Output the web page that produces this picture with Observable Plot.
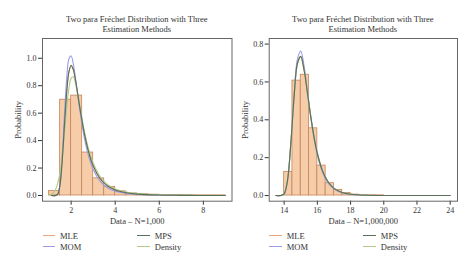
<!DOCTYPE html>
<html><head><meta charset="utf-8">
<script src="https://cdn.jsdelivr.net/npm/d3@7"></script>
<script src="https://cdn.jsdelivr.net/npm/@observablehq/plot@0.6"></script>
<style>
body{margin:0;background:#fff}
#c{position:relative;width:474px;height:268px;overflow:hidden;font-family:"Liberation Serif","DejaVu Serif",serif;color:#333}
.t{position:absolute;text-align:center;font-size:8.5px;line-height:9.5px;color:#333}
.leg{position:absolute;font-size:8.5px;display:flex;align-items:center;white-space:nowrap;height:10px}
.leg i{display:inline-block;width:12.5px;height:0;border-top:1px solid;margin-right:5px}
.p{position:absolute;top:0}
</style></head>
<body><div id="c"></div>
<script>
// ---------- data ----------
const titleText = "Two para Fréchet Distribution with Three Estimation Methods";
const seriesNames = ["MLE", "MOM", "MPS", "Density"];
const seriesColors = ["#eba57a", "#9c9ce6", "#56705a", "#b3c98a"];
const binWidth = 0.5;

// Left panel (N = 1,000)
const binLeftsL = [1.0,1.5,2.0,2.5,3.0,3.5,4.0,4.5,5.0,5.5,6.0,6.5,7.0,7.5,8.0,8.5];
const binHeightsL = [0.033,0.698,0.728,0.313,0.125,0.063,0.030,0.015,0.009,0.006,0.004,0.003,0.002,0.001,0.001,0.001];
const xFitL = [1.1,1.3,1.4,1.5,1.6,1.7,1.8,1.9,2.0,2.1,2.2,2.4,2.6,2.8,3.0,3.3,3.6,4.0,4.5,5.0,6.0,7.0,8.0,9.0];
const mleL = [0,0.001,0.013,0.088,0.272,0.527,0.758,0.900,0.944,0.914,0.837,0.637,0.454,0.316,0.219,0.128,0.077,0.041,0.020,0.010,0.0034,0.0013,0.0005,0.0002];
const momL = [0,0.001,0.012,0.093,0.307,0.602,0.856,0.996,1.017,0.956,0.851,0.615,0.419,0.281,0.189,0.106,0.062,0.031,0.015,0.0075,0.0023,0.0008,0.0003,0.0001];
const mpsL = [0,0.001,0.012,0.084,0.266,0.522,0.757,0.903,0.949,0.917,0.838,0.635,0.451,0.313,0.216,0.126,0.076,0.040,0.020,0.010,0.0033,0.0013,0.0005,0.0002];
const xDensL = [1.0,1.2,1.3,1.4,1.5,1.6,1.7,1.8,1.9,2.0,2.1,2.2,2.4,2.6,2.8,3.0,3.3,3.6,4.0,4.5,5.0,5.5,6.0,7.0,8.0,9.0];
const densL = [0.004,0.02,0.045,0.095,0.17,0.29,0.46,0.64,0.78,0.855,0.865,0.815,0.645,0.47,0.335,0.237,0.142,0.087,0.048,0.025,0.014,0.009,0.006,0.003,0.0015,0.0008];
const xTicksL = [2,4,6,8];
const yTicksL = [0,0.2,0.4,0.6,0.8,1.0];
const xLabelL = "Data – N=1,000";

// Right panel (N = 1,000,000)
const binLeftsR = [14.0,14.5,15.0,15.5,16.0,16.5,17.0,17.5,18.0,18.5,19.0,19.5];
const binHeightsR = [0.125,0.607,0.638,0.355,0.158,0.065,0.030,0.013,0.005,0.002,0.001,0.001];
const xFitR = [13.5,13.8,14.0,14.2,14.4,14.6,14.8,15.0,15.2,15.4,15.6,15.8,16.0,16.3,16.6,17.0,17.5,18.0,19.0,20.0,22.0,24.0];
const mleR = [0,0.0002,0.009,0.078,0.270,0.522,0.697,0.734,0.664,0.544,0.419,0.310,0.223,0.134,0.079,0.038,0.016,0.0066,0.0012,0.0002,0,0];
const momR = [0,0.0002,0.008,0.075,0.270,0.535,0.720,0.763,0.685,0.553,0.418,0.303,0.214,0.125,0.072,0.034,0.014,0.0058,0.001,0.0002,0,0];
const mpsR = [0,0.0002,0.009,0.079,0.271,0.523,0.698,0.735,0.663,0.543,0.418,0.309,0.222,0.133,0.078,0.038,0.016,0.0066,0.0012,0.0002,0,0];
const densR = [0,0.001,0.011,0.082,0.272,0.52,0.692,0.731,0.664,0.545,0.42,0.311,0.224,0.134,0.079,0.039,0.016,0.007,0.0013,0.0003,0,0];
const xTicksR = [14,16,18,20,22,24];
const yTicksR = [0,0.2,0.4,0.6,0.8];
const xLabelR = "Data – N=1,000,000";

// ---------- drawing ----------
const W = 237, H = 228, MT = 38, MB = 27.3;

function panel(cfg) {
  const bins = cfg.binLefts.map((x, i) => ({x1: x, x2: x + binWidth, y: cfg.binHeights[i]}));
  const curves = [];
  const add = (name, xs, ys) => xs.forEach((x, i) => curves.push({series: name, x, y: ys[i]}));
  add("MLE", cfg.xFit, cfg.mle);
  add("MOM", cfg.xFit, cfg.mom);
  add("Density", cfg.xDens, cfg.dens);
  add("MPS", cfg.xFit, cfg.mps);
  return Plot.plot({
    width: W, height: H,
    marginTop: MT, marginBottom: MB, marginLeft: cfg.ml, marginRight: cfg.mr,
    style: {fontFamily: '"Liberation Serif","DejaVu Serif",serif', fontSize: "8px", color: "#333", background: "transparent"},
    x: {domain: cfg.xDomain, ticks: cfg.xTicks, tickSize: 4, tickPadding: 2, label: null},
    y: {domain: cfg.yDomain, ticks: cfg.yTicks, tickFormat: d3.format(".1f"), tickSize: 4, tickPadding: 2, label: null},
    color: {domain: seriesNames, range: seriesColors},
    marks: [
      Plot.rectY(bins, {x1: "x1", x2: "x2", y: "y", fill: "#f6cda8", stroke: "#c4855c", strokeWidth: 0.8}),
      Plot.line(curves, {x: "x", y: "y", z: "series", stroke: "series", curve: "catmull-rom", strokeWidth: 1.1}),
      Plot.frame({stroke: "#666", strokeWidth: 1}),
      Plot.text(["Probability"], {frameAnchor: "left", rotate: -90, dx: -24, textAnchor: "middle", lineAnchor: "middle", fontSize: 8.5}),
      Plot.text([cfg.xLabel], {frameAnchor: "bottom", dy: 20, textAnchor: "middle", lineAnchor: "middle", fontSize: 8.5})
    ]
  });
}

const panels = [
  {left: 0, ml: 42, mr: 5.5, xDomain: [0.7, 9.3], yDomain: [-0.0415, 1.144],
   binLefts: binLeftsL, binHeights: binHeightsL, xFit: xFitL, mle: mleL, mom: momL, mps: mpsL,
   xDens: xDensL, dens: densL, xTicks: xTicksL, yTicks: yTicksL, xLabel: xLabelL},
  {left: 237, ml: 31.7, mr: 17, xDomain: [13.1, 24.44], yDomain: [-0.030, 0.8295],
   binLefts: binLeftsR, binHeights: binHeightsR, xFit: xFitR, mle: mleR, mom: momR, mps: mpsR,
   xDens: xFitR, dens: densR, xTicks: xTicksR, yTicks: yTicksR, xLabel: xLabelR}
];

const root = document.getElementById("c");
panels.forEach(cfg => {
  const wrap = document.createElement("div");
  wrap.className = "p";
  wrap.style.left = cfg.left + "px";
  wrap.appendChild(panel(cfg));
  root.appendChild(wrap);

  const fl = cfg.left + cfg.ml, fw = W - cfg.ml - cfg.mr;
  const t = document.createElement("div");
  t.className = "t";
  t.style.left = (fl - 20) + "px";
  t.style.width = (fw + 40) + "px";
  t.style.top = "15px";
  t.innerHTML = "Two para Fréchet Distribution with Three<br>Estimation Methods";
  root.appendChild(t);

  const order = [["MLE", 0, 0], ["MPS", 1, 0], ["MOM", 0, 1], ["Density", 1, 1]];
  order.forEach(([name, col, row]) => {
    const d = document.createElement("div");
    d.className = "leg";
    d.style.left = (fl + 0.5 + col * fw / 2) + "px";
    d.style.top = (230.7 + row * 11) + "px";
    const i = document.createElement("i");
    i.style.borderTopColor = seriesColors[seriesNames.indexOf(name)];
    d.appendChild(i);
    d.appendChild(document.createTextNode(name));
    root.appendChild(d);
  });
});
</script>
</body></html>
